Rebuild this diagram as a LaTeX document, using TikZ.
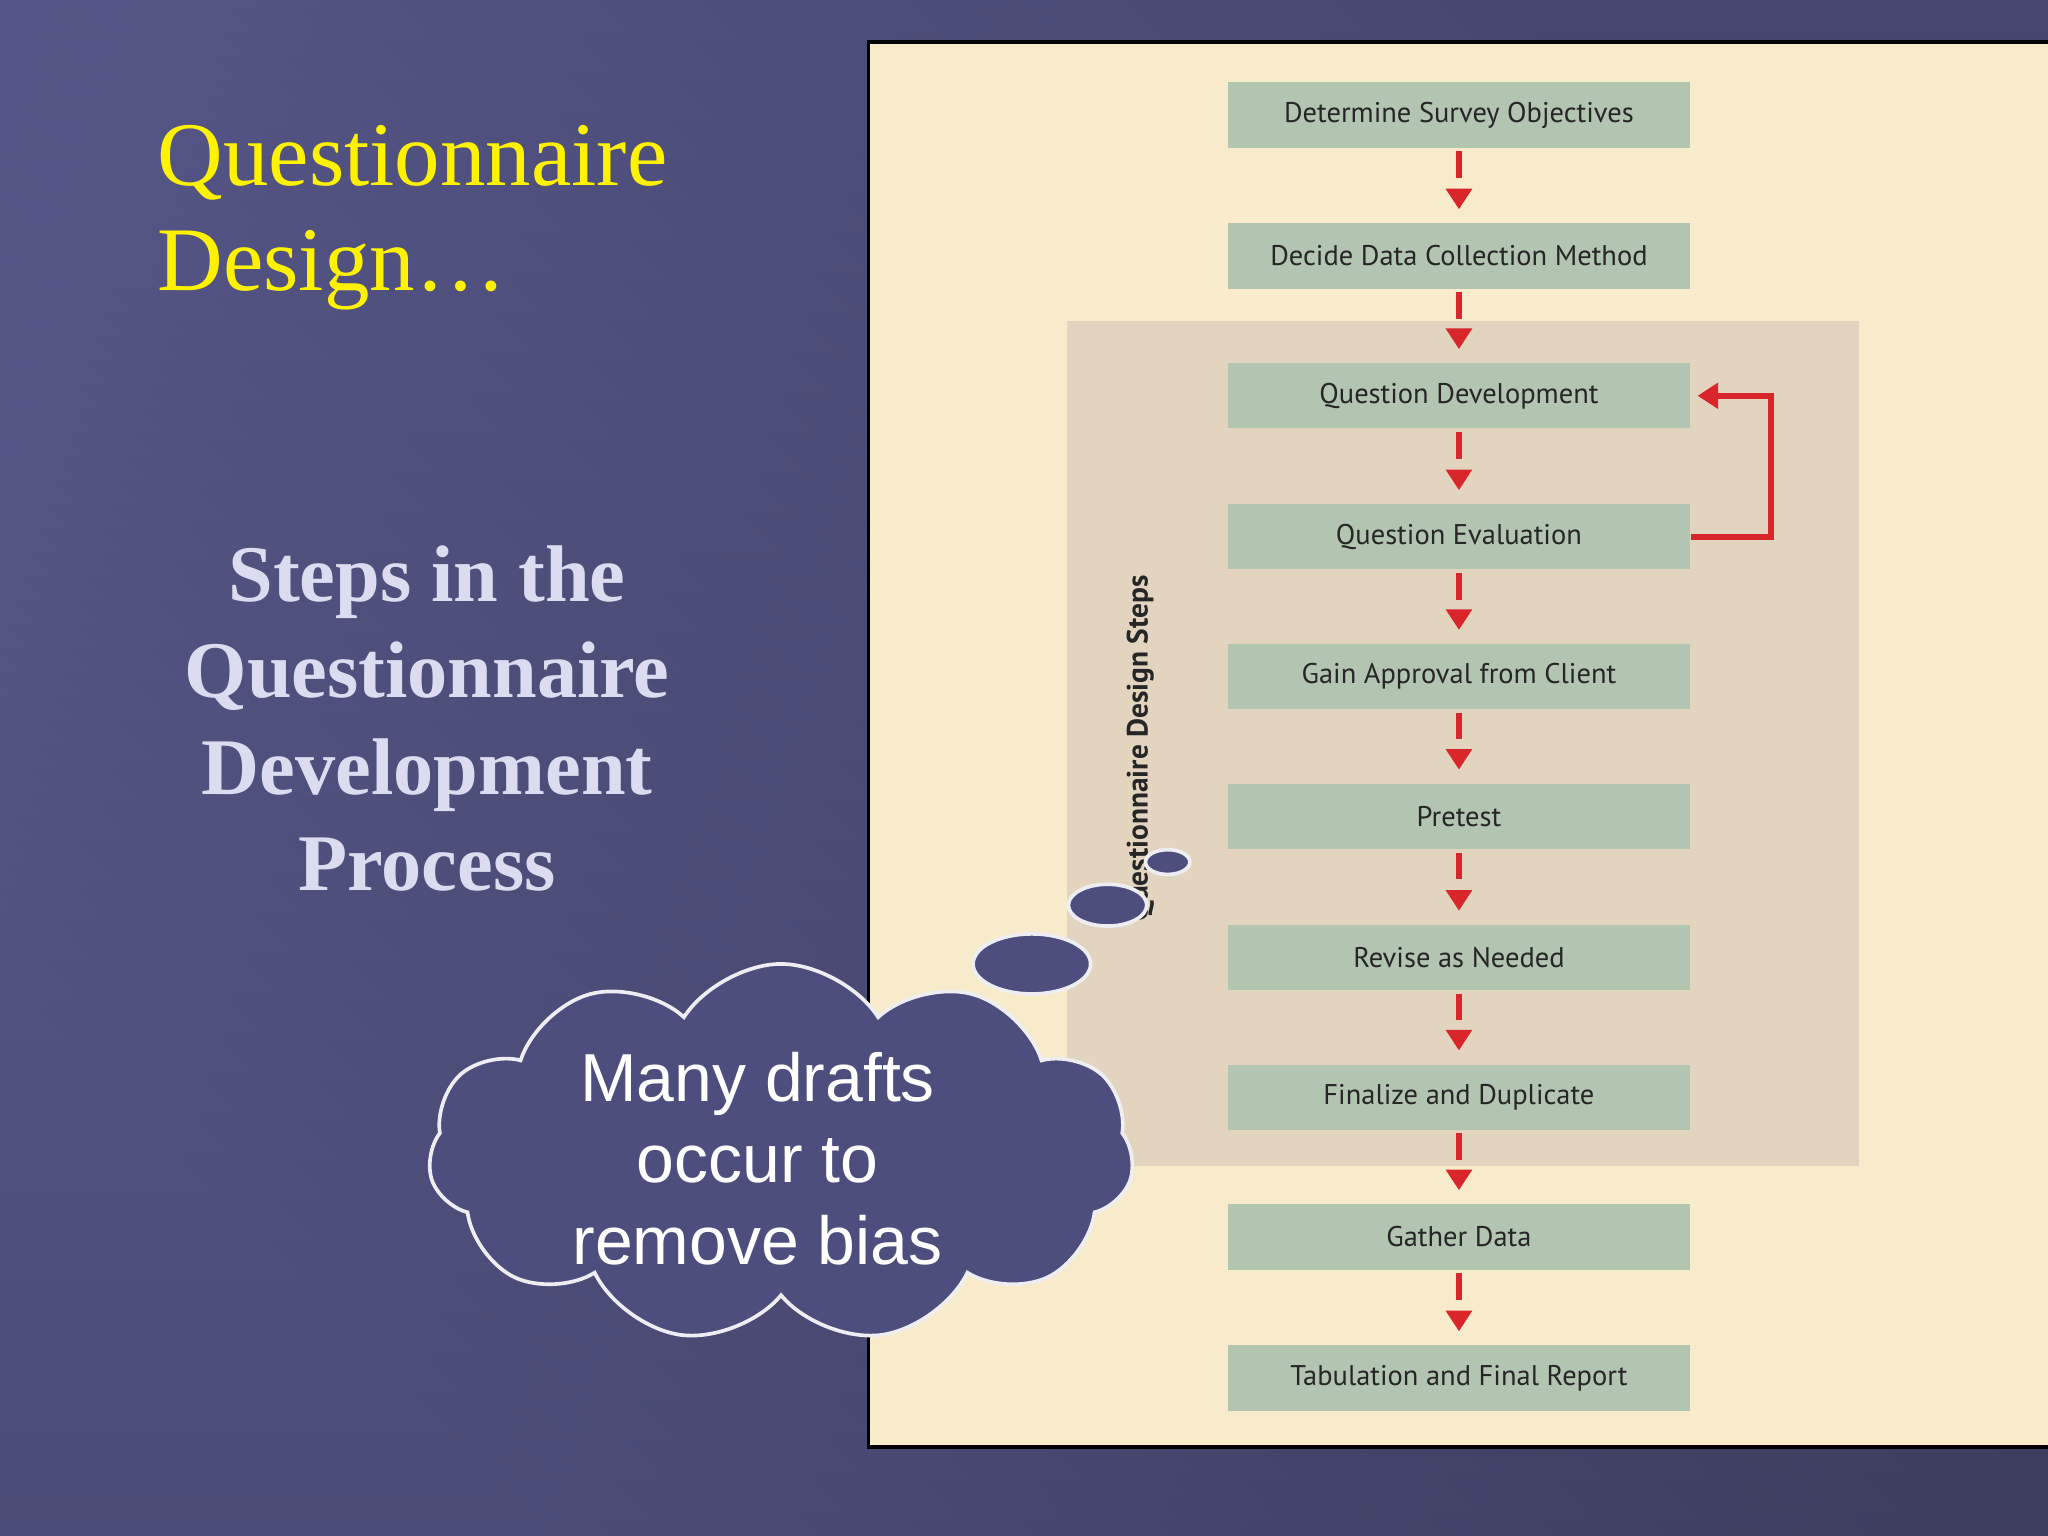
\documentclass[tikz,border=0pt]{standalone}
\usepackage{fontspec}
\setmainfont{Liberation Serif}
\newfontfamily\boxfont{PT Sans}
\newfontfamily\arialf{Liberation Sans}
\usetikzlibrary{shapes.symbols,shapes.geometric,arrows.meta}
\definecolor{bgA}{HTML}{6464A0}
\definecolor{bgB}{HTML}{34344F}
\definecolor{panel}{HTML}{F7EBCB}
\definecolor{inner}{HTML}{E3D4C0}
\definecolor{boxg}{HTML}{B2C5B0}
\definecolor{redar}{HTML}{D8262B}
\definecolor{cloudf}{HTML}{4E4E7E}
\definecolor{subt}{HTML}{DCDCF0}
\tikzset{
  stepbox/.style={fill=boxg,minimum width=354*0.1mm,minimum height=50*0.1mm,inner sep=0pt,font=\boxfont\fontsize{6.2}{8}\selectfont,text=black!85},
  flow/.style={draw=redar,line width=1.2pt,dash pattern=on 5.8pt off 2.5pt,-{Triangle[length=4.5pt,width=5.5pt,fill=redar]}},
  bub/.style={ellipse,fill=cloudf,draw=white!90!cloudf,line width=0.8pt,inner sep=0pt}
}
\begin{document}
\begin{tikzpicture}[x=0.1mm,y=-0.1mm]
\useasboundingbox (0,0) rectangle (1568,1176);
\shade[left color=bgA,right color=bgB,shading angle=135] (0,0) rectangle (1568,1176);
\shade[top color=bgA!80!bgB, bottom color=bgB, opacity=0.5] (0,0) rectangle (1568,1176);
% title
\node[anchor=north west,align=left,text=yellow,font=\fontsize{19.8}{23}\selectfont,inner sep=0pt] (title) at (120,95) {Questionnaire\\Design\dots};
\node[align=center,text=subt,font=\bfseries\fontsize{17.5}{21}\selectfont] (sub) at (327,550) {Steps in the\\Questionnaire\\Development\\Process};
% panel
\draw[fill=panel,draw=black,line width=0.8pt] (665,32) rectangle (1575,1108);
\fill[inner] (817,246) rectangle (1423,893);
\node[rotate=90,font=\boxfont\bfseries\fontsize{6.4}{8}\selectfont,text=black!85] (lab) at (873,573) {Questionnaire Design Steps};
% boxes
\foreach \n/\y/\t in {b1/88/Determine Survey Objectives,b2/196/Decide Data Collection Method,b3/303/Question Development,b4/411/Question Evaluation,b5/518/Gain Approval from Client,b6/625/Pretest,b7/733/Revise as Needed,b8/840/Finalize and Duplicate,b9/947/Gather Data,b10/1055/Tabulation and Final Report}
  \node[stepbox] (\n) at (1117,\y) {\t};
\foreach \a/\b in {b1/b2,b2/b3,b3/b4,b4/b5,b5/b6,b6/b7,b7/b8,b8/b9,b9/b10}
  \draw[flow] ([yshift=-0.2mm]\a.south) -- ([yshift=1mm]\b.north);
\coordinate (fb) at (1356,0);
\draw[redar,line width=1.2pt,-{Triangle[length=4.5pt,width=5.5pt,fill=redar]}] (b4.east) -- (b4.east -| fb) -- (fb |- b3.east) -- ([xshift=0.5mm]b3.east);
% cloud
\node[cloud,cloud puffs=11,cloud puff arc=115,aspect=1.7,fill=cloudf,draw=white!90!cloudf,line width=0.8pt,minimum width=540*0.1mm,minimum height=290*0.1mm,align=center,text=white,font=\arialf\fontsize{14.8}{17.7}\selectfont] (cl) at (598,883) {};
\node[align=center,text=white,font=\arialf\fontsize{14.8}{17.7}\selectfont] (ct) at (580,887) {Many drafts\\occur to\\remove bias};
\node[bub,minimum width=90*0.1mm,minimum height=46*0.1mm] (c1) at (790,738) {};
\node[bub,minimum width=60*0.1mm,minimum height=32*0.1mm] (c2) at (848,693) {};
\node[bub,minimum width=34*0.1mm,minimum height=19*0.1mm] (c3) at (894,660) {};
\end{tikzpicture}
\end{document}
